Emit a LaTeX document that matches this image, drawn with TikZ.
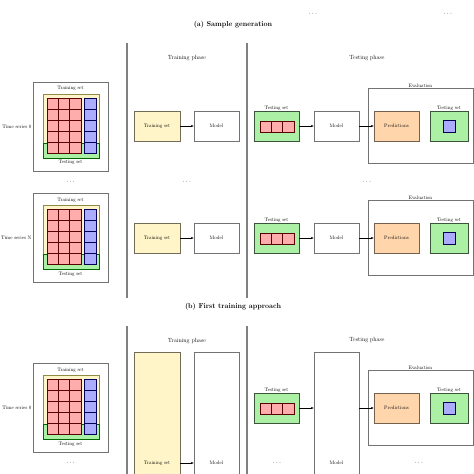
\documentclass[tikz,border=0pt]{standalone}
\usetikzlibrary{arrows.meta,positioning,calc}

\definecolor{trainyellow}{RGB}{255,245,200}
\definecolor{testgreen}{RGB}{172,240,165}
\definecolor{cellred}{RGB}{255,172,172}
\definecolor{cellblue}{RGB}{172,172,255}
\definecolor{predorange}{RGB}{255,214,172}

\begin{document}
\begin{tikzpicture}[x=2pt, y=-2pt,
    box/.style={draw=black!55, line width=1pt, fill=white, inner sep=0pt, minimum width=90pt, minimum height=60pt},
    trainbox/.style={box, fill=trainyellow, draw=black!45!trainyellow!80!black},
    testbox/.style={box, fill=testgreen, draw=black!65!testgreen},
    predbox/.style={box, fill=predorange, draw=black!55!predorange},
    lbl/.style={inner sep=1pt, font=\normalsize},
    phase/.style={inner sep=1pt, font=\large},
    title/.style={font=\Large\bfseries},
    dots/.style={font=\Large, inner sep=0pt},
    sep/.style={draw=black!50, line width=2.4pt},
    redcell/.style={fill=cellred, draw=black!65!red, line width=0.8pt},
    bluecell/.style={fill=cellblue, draw=black!65!blue, line width=0.8pt},
    arrow/.style={-{Stealth[length=6pt, width=4.5pt]}, line width=0.8pt}]

  \useasboundingbox (0,0) rectangle (474,474);
  \clip (0,0) rectangle (474,474);

  % Titles
  \node[dots] (dotsA) at (313,14) {$\cdots$};
  \node[dots] (dotsB) at (448,14) {$\cdots$};
  \node[title] (titleA) at (233,25) {(a) Sample generation};
  \node[title] (titleB) at (233,307) {(b) First training approach};

  % Separators
  \draw[sep] (127,43) -- (127,298);
  \draw[sep] (247,43) -- (247,298);
  \draw[sep] (127,326) -- (127,480);
  \draw[sep] (247,326) -- (247,480);

  % Time series blocks
  \foreach \oy/\ts/\idx in {0/tsa/0, 111.5/tsb/N, 281.5/tsc/0} {
    \node[box, minimum width=150pt, minimum height=178pt] (\ts) at (70.5,126.5+\oy) {};
    \draw[fill=trainyellow, draw=black!50!yellow, line width=1pt] (43,94+\oy) rectangle (99,158+\oy);
    \draw[fill=testgreen, draw=black!60!green, line width=1pt] (43,143+\oy) rectangle (99,158+\oy);
    \foreach \i in {0,1,2}
      \foreach \j in {0,...,4}
        \draw[redcell] (47+11.33*\i,98+11*\j+\oy) rectangle ++(11.33,11);
    \foreach \j in {0,...,4}
      \draw[bluecell] (84,98+11*\j+\oy) rectangle ++(12,11);
    \node[lbl] at (70.5,88.5+\oy) {Training set};
    \node[lbl] at (70.5,162.5+\oy) {Testing set};
    \node[lbl, anchor=east] at (32,126.5+\oy) {Time series \idx};
  }
  \node[dots] (dotsTsA) at (70.5,182) {$\cdots$};
  \node[dots] (dotsTsB) at (70.5,463) {$\cdots$};

  % (a) Training phase
  \node[phase] (trainphaseA) at (187,58) {Training phase};
  \node[trainbox, minimum width=92pt] (train1) at (157,126) {Training set};
  \node[box] (model1) at (216.5,126) {Model};
  \node[trainbox, minimum width=92pt] (train2) at (157,238) {Training set};
  \node[box] (model2) at (216.5,238) {Model};
  \node[dots] (dotsTrA) at (187,182) {$\cdots$};
  \draw[arrow] (train1) -- (model1);
  \draw[arrow] (train2) -- (model2);

  % (a) Testing phase
  \node[phase] (testphaseA) at (367,58) {Testing phase};
  \foreach \oy/\r in {0/1, 112/2} {
    \node[box, minimum width=210pt, minimum height=150pt] (eval\r) at (420.5,125.5+\oy) {};
    \node[lbl, anchor=south] at (eval\r.north) {Evaluation};
    \node[testbox] (test\r) at (276.5,126+\oy) {};
    \foreach \i in {0,1,2}
      \draw[redcell] (260+11.33*\i,121+\oy) rectangle ++(11.33,11);
    \node[lbl, anchor=south] at (test\r.north) {Testing set};
    \node[box] (tmodel\r) at (336.5,126+\oy) {Model};
    \node[predbox] (pred\r) at (396.5,126+\oy) {Predictions};
    \node[testbox, minimum width=76pt] (truth\r) at (449,126+\oy) {};
    \draw[bluecell] (443,120+\oy) rectangle (455,132+\oy);
    \node[lbl, anchor=south] at (truth\r.north) {Testing set};
    \draw[arrow] (test\r) -- (tmodel\r);
    \draw[arrow] (tmodel\r) -- (pred\r);
  }
  \node[dots] (dotsTeA) at (367,182) {$\cdots$};

  % (b) Training phase
  \node[phase] (trainphaseB) at (187,341) {Training phase};
  \node[trainbox, minimum width=92pt, minimum height=280pt, anchor=north] (train3) at (157,352) {};
  \node[box, minimum height=280pt, anchor=north] (model3) at (216.5,352) {};
  \node[lbl] (trainlbl3) at (157,463) {Training set};
  \node[lbl] (modellbl3) at (216.5,463) {Model};
  \draw[arrow] (trainlbl3 -| train3.east) -- (trainlbl3 -| model3.west);

  % (b) Testing phase
  \node[phase] (testphaseB) at (367,340) {Testing phase};
  \node[box, minimum height=280pt, anchor=north] (tmodel3) at (336.5,352) {};
  \node[lbl] (tmodellbl3) at (336.5,463) {Model};
  \node[box, minimum width=210pt, minimum height=150pt] (eval3) at (420.5,407.5) {};
  \node[lbl, anchor=south] at (eval3.north) {Evaluation};
  \node[testbox] (test3) at (276.5,408) {};
  \foreach \i in {0,1,2}
    \draw[redcell] (260+11.33*\i,403) rectangle ++(11.33,11);
  \node[lbl, anchor=south] at (test3.north) {Testing set};
  \node[predbox] (pred3) at (396.5,408) {Predictions};
  \node[testbox, minimum width=76pt] (truth3) at (449,408) {};
  \draw[bluecell] (443,402) rectangle (455,414);
  \node[lbl, anchor=south] at (truth3.north) {Testing set};
  \draw[arrow] (test3) -- (test3 -| tmodel3.west);
  \draw[arrow] (pred3 -| tmodel3.east) -- (pred3);
  \node[dots] (dotsTeB1) at (277,463) {$\cdots$};
  \node[dots] (dotsTeB2) at (419,463) {$\cdots$};
\end{tikzpicture}
\end{document}
